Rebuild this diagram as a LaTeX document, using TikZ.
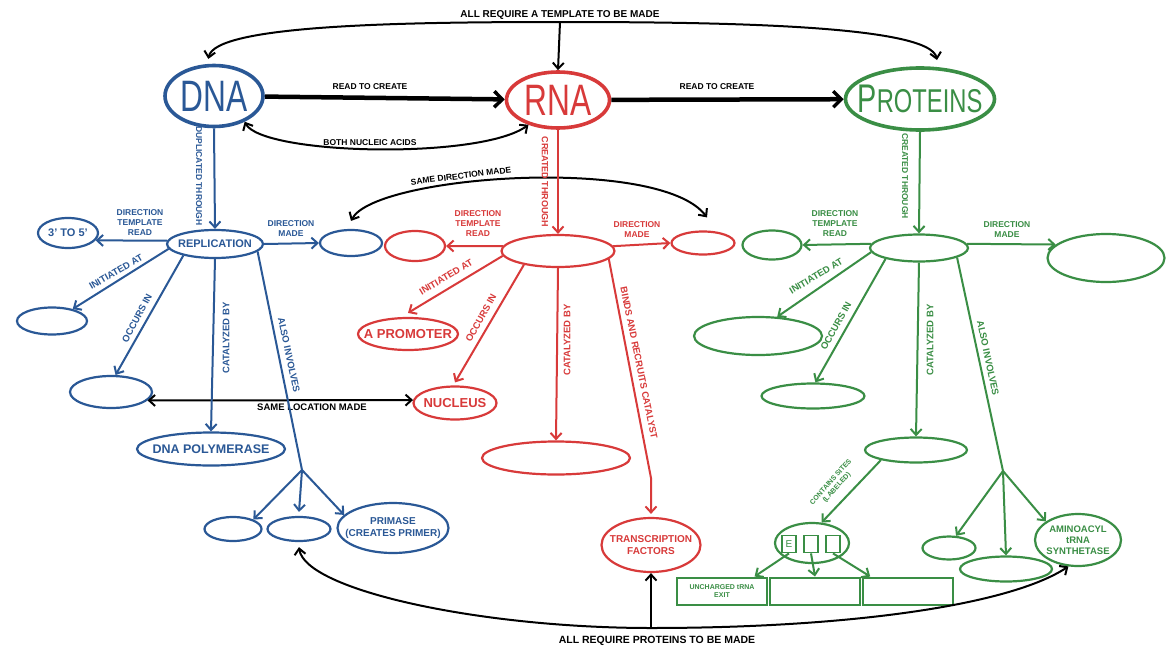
\documentclass[tikz,border=0pt]{standalone}
\usepackage{fontspec}
\setmainfont{Liberation Sans}
\newfontfamily\bigf[FakeStretch=0.72]{Liberation Sans}
\usetikzlibrary{arrows.meta,shapes.geometric,calc}
\definecolor{cb}{HTML}{2A5896}
\definecolor{cr}{HTML}{D83A3A}
\definecolor{cg}{HTML}{3A8E45}
\tikzset{
  sz/.style 2 args={minimum width=#1, minimum height=#2},
  el/.style={ellipse, draw, line width=2.2pt, inner xsep=-14pt, inner ysep=-4pt, align=center, font=\bfseries\fontsize{11}{12}\selectfont},
  bel/.style={el, draw=cb, text=cb},
  rel/.style={el, draw=cr, text=cr},
  gel/.style={el, draw=cg, text=cg},
  bigel/.style={ellipse, draw, line width=3.6pt, inner xsep=-14pt, inner ysep=-4pt},
  tip/.style={-{Straight Barb[length=6pt,width=11pt]}},
  dtip/.style={{Straight Barb[length=6pt,width=11pt]}-{Straight Barb[length=6pt,width=11pt]}},
  con/.style={line width=2pt, tip},
  bcon/.style={con, draw=cb}, rcon/.style={con, draw=cr}, gcon/.style={con, draw=cg},
  kline/.style={line width=2pt, draw=black},
  thickarr/.style={line width=4.5pt, -{Straight Barb[length=8pt,width=16pt,line width=3.5pt]}},
  lab/.style={inner sep=0pt, align=center, font=\bfseries\fontsize{8.5}{10}\selectfont},
  slab/.style={inner sep=0pt, align=center, font=\bfseries\fontsize{9.5}{10}\selectfont},
  klab/.style={lab, text=black},
  blab/.style={lab, text=cb}, rlab/.style={lab, text=cr}, glab/.style={lab, text=cg},
  bslab/.style={slab, text=cb}, rslab/.style={slab, text=cr}, gslab/.style={slab, text=cg},
  sqbox/.style={rectangle, draw=cg, line width=1.8pt, minimum width=14pt, minimum height=17pt, inner sep=0pt, text=cg, font=\fontsize{10}{10}\selectfont},
  rbox/.style={rectangle, draw=cg, line width=2pt, minimum width=90pt, minimum height=27pt, inner sep=1pt, align=center, text=cg, font=\bfseries\fontsize{7}{8}\selectfont}
}
\begin{document}
\begin{tikzpicture}[x=1pt,y=-1pt]
\useasboundingbox (0,0) rectangle (1170,656);
\fill[white] (0,0) rectangle (1170,656);

% main nodes
\node[bigel, draw=cb, text=cb, sz={98pt}{61pt}, font=\bigf\fontsize{44}{44}\selectfont] (dna) at (214,96) {DNA};
\node[bigel, draw=cr, text=cr, sz={103pt}{56pt}, font=\bigf\fontsize{44}{44}\selectfont] (rna) at (558,100) {RNA};
\node[bigel, draw=cg, text=cg, sz={149pt}{62pt}, font=\bigf\fontsize{33}{33}\selectfont] (prot) at (920,99) {{\fontsize{40}{40}\selectfont P}ROTEINS};

% blue nodes
\node[bel, sz={96pt}{28pt}] (rep) at (215,244) {REPLICATION};
\node[bel, sz={60pt}{30pt}] (t35) at (68,233) {3' TO 5'};
\node[bel, sz={62pt}{26pt}] (bdm) at (351,243) {};
\node[bel, sz={70pt}{27pt}] (bia) at (52,321) {};
\node[bel, sz={82pt}{32pt}] (boc) at (111,392) {};
\node[bel, sz={148pt}{33pt}, font=\bfseries\fontsize{12.5}{13}\selectfont] (pol) at (211,449) {DNA POLYMERASE};
\node[bel, sz={57pt}{24pt}] (b1) at (233,529) {};
\node[bel, sz={63pt}{24pt}] (b2) at (299,529) {};
\node[bel, sz={111pt}{50pt}, font=\bfseries\fontsize{10}{12}\selectfont] (prim) at (393,528) {PRIMASE\\(CREATES PRIMER)};
\coordinate (bbr) at (302,470);

% red nodes
\node[rel, sz={113pt}{32pt}] (rc) at (558,251) {};
\node[rel, sz={60pt}{30pt}] (rtr) at (415,246) {};
\node[rel, sz={63pt}{23pt}] (rdm) at (703,243) {};
\node[rel, sz={100pt}{32pt}, font=\bfseries\fontsize{13}{13}\selectfont] (prom) at (408,334) {A PROMOTER};
\node[rel, sz={83pt}{33pt}, font=\bfseries\fontsize{13}{13}\selectfont] (nuc) at (455,403) {NUCLEUS};
\node[rel, sz={148pt}{33pt}] (rcat) at (556,458) {};
\node[rel, sz={99pt}{54pt}, font=\bfseries\fontsize{10}{12}\selectfont] (tf) at (651,545) {TRANSCRIPTION\\FACTORS};
\coordinate (rbend) at (651,478);

% green nodes
\node[gel, sz={98pt}{27pt}] (gc) at (919,248) {};
\node[gel, sz={59pt}{29pt}] (gtr) at (772,245) {};
\node[gel, sz={117pt}{48pt}] (gdm) at (1106,258) {};
\node[gel, sz={128pt}{38pt}] (gia) at (758,336) {};
\node[gel, sz={103pt}{25pt}] (goc) at (813,396) {};
\node[gel, sz={102pt}{25pt}] (gcat) at (916,450) {};
\node[gel, sz={74pt}{40pt}] (ribo) at (812,543) {};
\node[sqbox] (sqE) at (789,544) {E};
\node[sqbox] (sq2) at (811,544) {};
\node[sqbox] (sq3) at (833,544) {};
\node[rbox] (r1) at (722,591) {UNCHARGED tRNA\\EXIT};
\node[rbox] (r2) at (815,591) {};
\node[rbox] (r3) at (908,591) {};
\coordinate (gbr) at (1003,471);
\node[gel, sz={53pt}{23pt}] (gs1) at (949,548) {};
\node[gel, sz={92pt}{25pt}] (gs2) at (1006,569) {};
\node[gel, sz={86pt}{52pt}, font=\bfseries\fontsize{9.5}{11}\selectfont] (amino) at (1078,540) {AMINOACYL\\tRNA\\SYNTHETASE};

% black connectors
\coordinate (top) at (560,22);
\coordinate (bot) at (651,628);
\draw[thickarr] (dna) -- (rna);
\draw[thickarr] (rna) -- (prot);
\draw[kline, dtip] ([yshift=5pt]dna.100) .. controls (215,25) and (400,22) .. (top) .. controls (720,22) and (930,25) .. ([yshift=7pt]prot.62);
\draw[kline, tip] (top) -- (rna.north);
\draw[kline, dtip] (dna.-40) .. controls (262,155) and (480,160) .. (rna.-140);
\draw[kline, dtip] ([yshift=8pt]bdm.north) .. controls (375,175) and (660,155) .. ([xshift=4pt,yshift=13pt]rdm.north);
\draw[kline, dtip] (boc.-13) -- (nuc.176);
\draw[kline, dtip] ([yshift=-5pt]b2.south) .. controls (305,590) and (480,628) .. (bot) .. controls (850,628) and (1010,605) .. (amino.250);
\draw[kline, tip] (bot) -- (tf.south);

% black labels
\node[klab, font=\bfseries\fontsize{10}{10}\selectfont] (l1) at (560,15) {ALL REQUIRE A TEMPLATE TO BE MADE};
\node[klab] (l2) at (370,87) {READ TO CREATE};
\node[klab] (l3) at (717,87) {READ TO CREATE};
\node[klab] (l4) at (370,143) {BOTH NUCLEIC ACIDS};
\node[klab, rotate=7] (l5) at (461,176) {SAME DIRECTION MADE};
\node[klab, font=\bfseries\fontsize{9.5}{10}\selectfont] (l6) at (312,407) {SAME LOCATION MADE};
\node[klab, font=\bfseries\fontsize{10.5}{11}\selectfont] (l7) at (657,641) {ALL REQUIRE PROTEINS TO BE MADE};

% blue connectors
\draw[bcon] (dna.south) -- (rep.north);
\draw[bcon] (rep.176) -- (t35.-15);
\draw[bcon] (rep.east) -- (bdm.west);
\draw[bcon] (rep.186) -- (bia.30);
\draw[bcon] (rep.200) -- (boc.75);
\draw[bcon] (rep.south) -- (pol.north);
\draw[line width=2pt, draw=cb] (rep.-10) -- (bbr);
\draw[bcon] (bbr) -- (b1.25);
\draw[bcon] (bbr) -- ([yshift=4pt]b2.north);
\draw[bcon] (bbr) -- (prim.165);

\node[bslab, rotate=-90, font=\bfseries\fontsize{8.5}{9}\selectfont] (bl1) at (199,176) {DUPLICATED THROUGH};
\node[blab] (bl2) at (140,223) {DIRECTION\\TEMPLATE\\READ};
\node[blab] (bl3) at (291,229) {DIRECTION\\MADE};
\node[bslab, rotate=30] (bl4) at (116,272) {INITIATED AT};
\node[bslab, rotate=62] (bl5) at (137,318) {OCCURS IN};
\node[bslab, rotate=90] (bl6) at (226,338) {CATALYZED BY};
\node[bslab, rotate=-78] (bl7) at (289,355) {ALSO INVOLVES};

% red connectors
\draw[rcon] (rna.south) -- (rc.north);
\draw[rcon] (rc.175) -- (rtr.east);
\draw[rcon] (rc.5) -- (rdm.west);
\draw[rcon] (rc.185) -- ([yshift=4pt]prom.north);
\draw[rcon] (rc.202) -- ([yshift=3pt]nuc.north);
\draw[rcon] (rc.south) -- (rcat.north);
\draw[rcon] (rc.-9) -- (rbend) -- ([yshift=3pt]tf.north);

\node[rslab, rotate=-90, font=\bfseries\fontsize{9}{9}\selectfont] (rl1) at (545,182) {CREATED THROUGH};
\node[rlab] (rl2) at (478,224) {DIRECTION\\TEMPLATE\\READ};
\node[rlab] (rl3) at (637,230) {DIRECTION\\MADE};
\node[rslab, rotate=31] (rl4) at (446,277) {INITIATED AT};
\node[rslab, rotate=61] (rl5) at (481,318) {OCCURS IN};
\node[rslab, rotate=90] (rl6) at (567,340) {CATALYZED BY};
\node[rslab, rotate=-78.5] (rl7) at (639,363) {BINDS AND RECRUITS CATALYST};

% green connectors
\draw[gcon] (prot.south) -- (gc.north);
\draw[gcon] (gc.175) -- (gtr.east);
\draw[gcon] (gc.5) -- (gdm.165);
\draw[gcon] (gc.185) -- (gia.45);
\draw[gcon] (gc.198) -- (goc.80);
\draw[gcon] (gc.south) -- (gcat.north);
\draw[line width=2pt, draw=cg] (gc.-14) -- (gbr);
\draw[gcon] (gbr) -- (gs1.60);
\draw[gcon] (gbr) -- (gs2.north);
\draw[gcon] (gbr) -- (amino.150);
\draw[gcon] (gcat.196) -- (ribo.65);
\draw[gcon] (sqE.south) -- (r1.24);
\draw[gcon] (sq2.south) -- (r2.north);
\draw[gcon] (sq3.south) -- (r3.159);

\node[gslab, rotate=-90, font=\bfseries\fontsize{8.5}{9}\selectfont] (gl1) at (905,176) {CREATED THROUGH};
\node[glab] (gl2) at (835,224) {DIRECTION\\TEMPLATE\\READ};
\node[glab] (gl3) at (1007,230) {DIRECTION\\MADE};
\node[gslab, rotate=31] (gl4) at (816,276) {INITIATED AT};
\node[gslab, rotate=61] (gl5) at (836,326) {OCCURS IN};
\node[gslab, rotate=90] (gl6) at (930,340) {CATALYZED BY};
\node[gslab, rotate=-78] (gl7) at (988,358) {ALSO INVOLVES};
\node[glab, rotate=48, font=\bfseries\fontsize{7}{8}\selectfont] (gl8) at (834,485) {CONTAINS SITES\\(LABELED)};
\end{tikzpicture}
\end{document}
